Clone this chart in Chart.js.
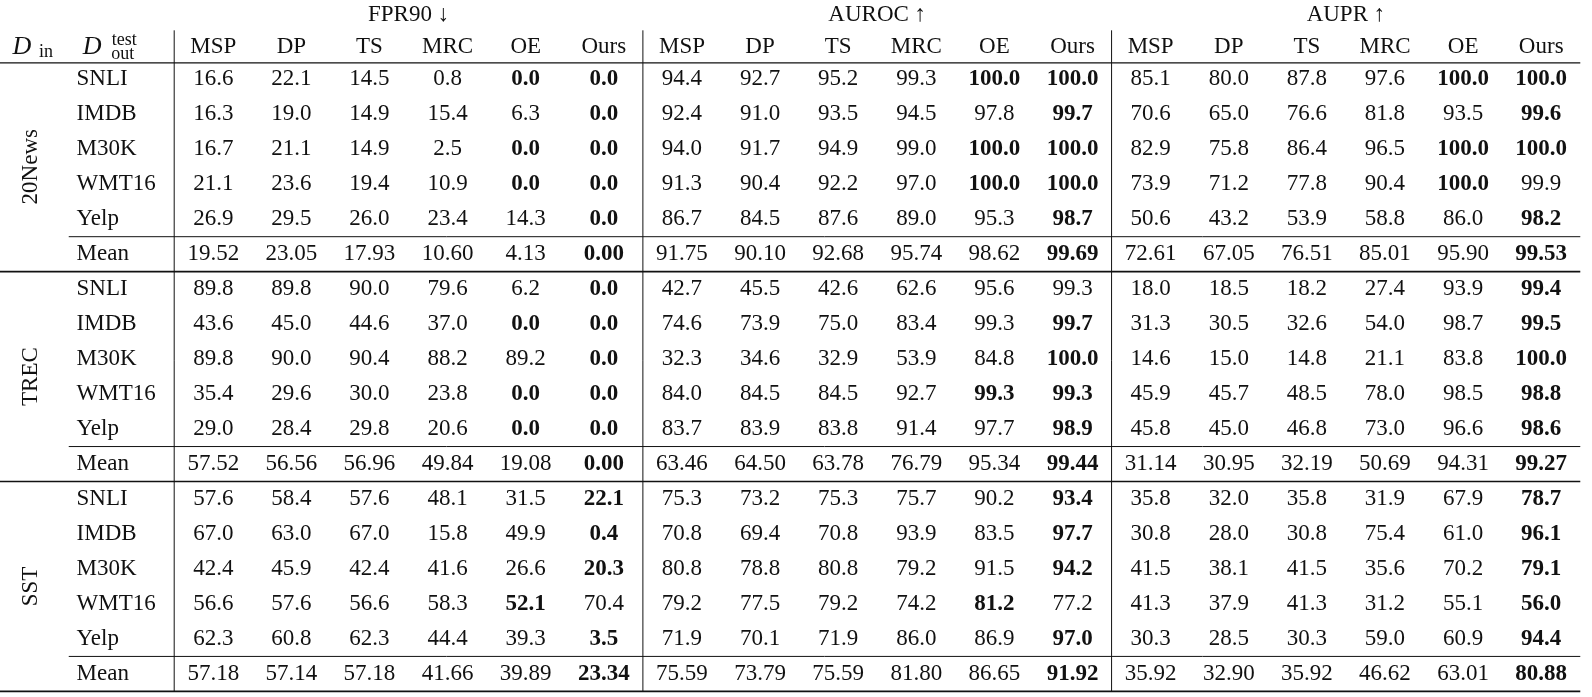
<!DOCTYPE html>
<html>
<head>
<meta charset="utf-8">
<script src="https://cdn.jsdelivr.net/npm/chart.js@4.4.0/dist/chart.umd.min.js"></script>
<style>
  html, body { margin: 0; padding: 0; background: #fff; }
  canvas { display: block; }
</style>
</head>
<body>
<canvas id="table" width="1592" height="697"></canvas>
<script>
// table content
const metrics = ['FPR90 \u2193', 'AUROC \u2191', 'AUPR \u2191'];
const methods = ['MSP', 'DP', 'TS', 'MRC', 'OE', 'Ours'];
const inSets = ['20News', 'TREC', 'SST'];
const outSets = ['SNLI', 'IMDB', 'M30K', 'WMT16', 'Yelp', 'Mean'];

const news20Rows = [
    ['16.6','22.1','14.5','0.8','0.0','0.0', '94.4','92.7','95.2','99.3','100.0','100.0', '85.1','80.0','87.8','97.6','100.0','100.0'],
    ['16.3','19.0','14.9','15.4','6.3','0.0', '92.4','91.0','93.5','94.5','97.8','99.7', '70.6','65.0','76.6','81.8','93.5','99.6'],
    ['16.7','21.1','14.9','2.5','0.0','0.0', '94.0','91.7','94.9','99.0','100.0','100.0', '82.9','75.8','86.4','96.5','100.0','100.0'],
    ['21.1','23.6','19.4','10.9','0.0','0.0', '91.3','90.4','92.2','97.0','100.0','100.0', '73.9','71.2','77.8','90.4','100.0','99.9'],
    ['26.9','29.5','26.0','23.4','14.3','0.0', '86.7','84.5','87.6','89.0','95.3','98.7', '50.6','43.2','53.9','58.8','86.0','98.2'],
    ['19.52','23.05','17.93','10.60','4.13','0.00', '91.75','90.10','92.68','95.74','98.62','99.69', '72.61','67.05','76.51','85.01','95.90','99.53']
];
const trecRows = [
    ['89.8','89.8','90.0','79.6','6.2','0.0', '42.7','45.5','42.6','62.6','95.6','99.3', '18.0','18.5','18.2','27.4','93.9','99.4'],
    ['43.6','45.0','44.6','37.0','0.0','0.0', '74.6','73.9','75.0','83.4','99.3','99.7', '31.3','30.5','32.6','54.0','98.7','99.5'],
    ['89.8','90.0','90.4','88.2','89.2','0.0', '32.3','34.6','32.9','53.9','84.8','100.0', '14.6','15.0','14.8','21.1','83.8','100.0'],
    ['35.4','29.6','30.0','23.8','0.0','0.0', '84.0','84.5','84.5','92.7','99.3','99.3', '45.9','45.7','48.5','78.0','98.5','98.8'],
    ['29.0','28.4','29.8','20.6','0.0','0.0', '83.7','83.9','83.8','91.4','97.7','98.9', '45.8','45.0','46.8','73.0','96.6','98.6'],
    ['57.52','56.56','56.96','49.84','19.08','0.00', '63.46','64.50','63.78','76.79','95.34','99.44', '31.14','30.95','32.19','50.69','94.31','99.27']
];
const sstRows = [
    ['57.6','58.4','57.6','48.1','31.5','22.1', '75.3','73.2','75.3','75.7','90.2','93.4', '35.8','32.0','35.8','31.9','67.9','78.7'],
    ['67.0','63.0','67.0','15.8','49.9','0.4', '70.8','69.4','70.8','93.9','83.5','97.7', '30.8','28.0','30.8','75.4','61.0','96.1'],
    ['42.4','45.9','42.4','41.6','26.6','20.3', '80.8','78.8','80.8','79.2','91.5','94.2', '41.5','38.1','41.5','35.6','70.2','79.1'],
    ['56.6','57.6','56.6','58.3','52.1','70.4', '79.2','77.5','79.2','74.2','81.2','77.2', '41.3','37.9','41.3','31.2','55.1','56.0'],
    ['62.3','60.8','62.3','44.4','39.3','3.5', '71.9','70.1','71.9','86.0','86.9','97.0', '30.3','28.5','30.3','59.0','60.9','94.4'],
    ['57.18','57.14','57.18','41.66','39.89','23.34', '75.59','73.79','75.59','81.80','86.65','91.92', '35.92','32.90','35.92','46.62','63.01','80.88']
];
// column indexes (0..17) printed in bold, per row
const news20Bold = [[4,5,10,11,16,17],[5,11,17],[4,5,10,11,16,17],[4,5,10,11,16],[5,11,17],[5,11,17]];
const trecBold = [[5,17],[4,5,11,17],[5,11,17],[4,5,10,11,17],[4,5,11,17],[5,11,17]];
const sstBold = [[5,11,17],[5,11,17],[5,11,17],[4,10,17],[5,11,17],[5,11,17]];

const blocks = [news20Rows, trecRows, sstRows];
const blockBold = [news20Bold, trecBold, sstBold];

// layout (in scale units: x = column index, y = row index)
const FONT = "'Liberation Serif', 'DejaVu Serif', serif";
const FS = 23;
const firstNumCol = 2;

const cells = [];
blocks.forEach((rows, b) => {
    rows.forEach((row, r) => {
        row.forEach((txt, c) => {
            cells.push({ x: firstNumCol + c, y: b * 6 + r, txt: txt, bold: blockBold[b][r].includes(c) });
        });
    });
});

const tablePlugin = {
    id: 'tableText',
    afterDatasetsDraw(chart) {
        const ctx = chart.ctx;
        const xs = chart.scales.x, ys = chart.scales.y;
        const X = v => xs.getPixelForValue(v);
        const Y = v => ys.getPixelForValue(v);
        ctx.save();
        ctx.fillStyle = '#111';
        ctx.textBaseline = 'middle';

        // cell values, positioned by the dataset's points
        const meta = chart.getDatasetMeta(0);
        meta.data.forEach((pt, i) => {
            const c = cells[i];
            ctx.font = (c.bold ? 'bold ' : '') + FS + 'px ' + FONT;
            ctx.textAlign = 'center';
            ctx.fillText(c.txt, pt.x, pt.y);
        });

        // headers
        ctx.font = FS + 'px ' + FONT;
        ctx.textAlign = 'center';
        metrics.forEach((m, g) => ctx.fillText(m, X(firstNumCol + g * 6 + 2.5), Y(-1.85)));
        for (let g = 0; g < 3; g++) {
            methods.forEach((m, k) => ctx.fillText(m, X(firstNumCol + g * 6 + k), Y(-0.93)));
        }
        // D_in
        ctx.font = 'italic ' + (FS + 3) + 'px ' + FONT;
        ctx.fillText('D', X(-0.45), Y(-0.93));
        ctx.font = (FS - 5) + 'px ' + FONT;
        ctx.fillText('in', X(-0.14), Y(-0.78));
        // D_out^test
        ctx.font = 'italic ' + (FS + 3) + 'px ' + FONT;
        ctx.fillText('D', X(0.45), Y(-0.93));
        ctx.font = (FS - 5) + 'px ' + FONT;
        ctx.fillText('test', X(0.86), Y(-1.12));
        ctx.fillText('out', X(0.84), Y(-0.72));

        // row labels
        ctx.font = FS + 'px ' + FONT;
        ctx.textAlign = 'left';
        for (let b = 0; b < 3; b++) {
            outSets.forEach((s, r) => ctx.fillText(s, X(0.25), Y(b * 6 + r)));
        }
        // rotated dataset labels
        ctx.textAlign = 'center';
        inSets.forEach((s, b) => {
            ctx.save();
            ctx.translate(X(-0.33), Y(b * 6 + 2.5));
            ctx.rotate(-Math.PI / 2);
            ctx.fillText(s, 0, 0);
            ctx.restore();
        });

        // rules
        ctx.strokeStyle = '#111';
        const hline = (y, x0, x1, w) => {
            ctx.lineWidth = w;
            ctx.beginPath(); ctx.moveTo(X(x0), Y(y)); ctx.lineTo(X(x1), Y(y)); ctx.stroke();
        };
        hline(-0.47, -0.75, 19.5, 1.2);
        for (let b = 0; b < 3; b++) {
            hline(b * 6 + 4.5, 0.15, 19.5, 1);
            hline(b * 6 + 5.5, -0.75, 19.5, 1.6);
        }
        ctx.lineWidth = 1;
        [1.5, 7.5, 13.5].forEach(v => {
            ctx.beginPath(); ctx.moveTo(X(v), Y(-1.4)); ctx.lineTo(X(v), Y(17.5)); ctx.stroke();
        });
        ctx.restore();
    }
};

new Chart(document.getElementById('table').getContext('2d'), {
    type: 'scatter',
    data: {
        datasets: [{
            data: cells.map(c => ({ x: c.x, y: c.y })),
            pointRadius: 0,
            pointHoverRadius: 0
        }]
    },
    options: {
        responsive: false,
        animation: false,
        devicePixelRatio: 1,
        layout: { padding: 0 },
        plugins: { legend: { display: false }, tooltip: { enabled: false } },
        scales: {
            x: { type: 'linear', display: false, min: -0.73, max: 19.65 },
            y: { type: 'linear', display: false, reverse: true, min: -2.267, max: 17.66 }
        }
    },
    plugins: [tablePlugin]
});
</script>
</body>
</html>
